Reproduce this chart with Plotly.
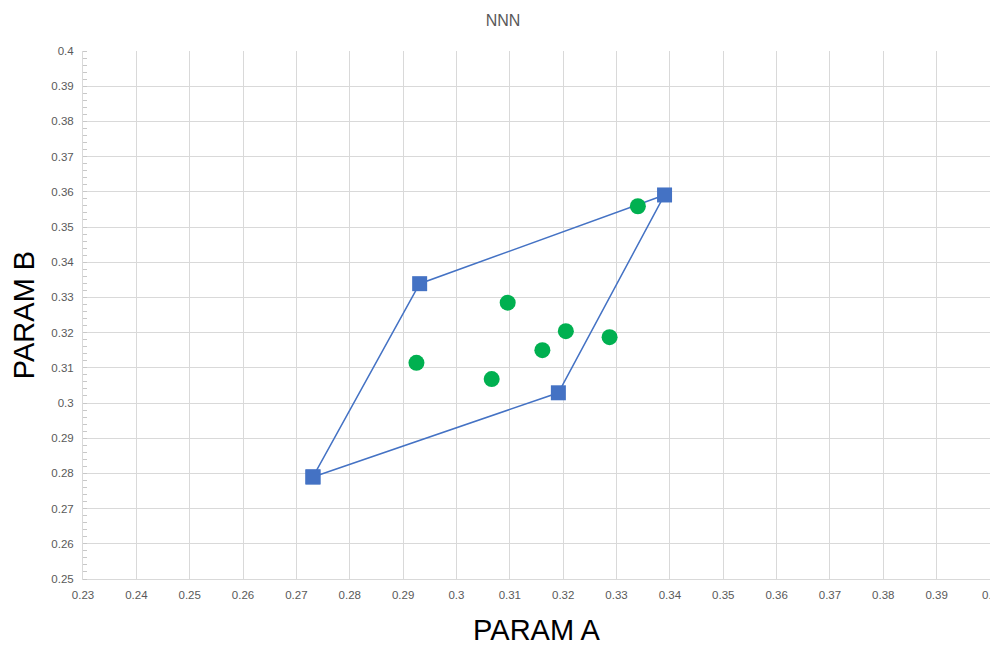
#!/usr/bin/env python3

import plotly.graph_objects as go

# corners of the quadrilateral (drawn in order, then closed)
corner_a = [0.2731, 0.2931, 0.3390, 0.3191]
corner_b = [0.2790, 0.3339, 0.3591, 0.3029]

# measured points
point_a = [0.2925, 0.3066, 0.3096, 0.3161, 0.3205, 0.3287, 0.3340]
point_b = [0.3114, 0.3068, 0.3285, 0.3150, 0.3204, 0.3187, 0.3559]

x_ticks = [round(0.23 + 0.01 * i, 2) for i in range(18)]
y_ticks = [round(0.25 + 0.01 * i, 2) for i in range(16)]

BLUE = "#4472C4"
GREEN = "#00B050"
GRID = "#d9d9d9"
TICK_FONT = dict(family="Liberation Sans", size=11.5, color="#595959")


def main():
    fig = go.Figure()
    fig.add_trace(
        go.Scatter(
            x=corner_a + corner_a[:1],
            y=corner_b + corner_b[:1],
            mode="lines+markers",
            line=dict(color=BLUE, width=1.5),
            marker=dict(symbol="square", size=15, color=BLUE),
            showlegend=False,
        )
    )
    fig.add_trace(
        go.Scatter(
            x=point_a,
            y=point_b,
            mode="markers",
            marker=dict(symbol="circle", size=16, color=GREEN),
            showlegend=False,
        )
    )
    # page body adds an 8px margin all round, so the figure is sized to fit
    fig.update_layout(
        width=990,
        height=646,
        paper_bgcolor="white",
        plot_bgcolor="white",
        margin=dict(l=75, r=8, t=43, b=75),
        title=dict(
            text="NNN",
            x=0.5,
            xanchor="center",
            y=0.981,
            yanchor="middle",
            font=dict(family="Liberation Sans", size=16, color="#595959"),
        ),
    )
    fig.update_xaxes(
        range=[0.23, 0.4],
        tickvals=x_ticks,
        ticktext=[f"{v:g}" for v in x_ticks],
        tickfont=TICK_FONT,
        ticklabelstandoff=5,
        ticklabeloverflow="allow",
        automargin=False,
        showgrid=True,
        gridcolor=GRID,
        gridwidth=1,
        showline=True,
        linecolor=GRID,
        zeroline=False,
        ticks="",
        title=dict(
            text="PARAM A",
            font=dict(family="Liberation Sans", size=29, color="black"),
            standoff=19,
        ),
    )
    fig.update_yaxes(
        range=[0.25, 0.4],
        tickvals=y_ticks,
        ticktext=[f"{v:g}" for v in y_ticks],
        tickfont=TICK_FONT,
        ticklabelstandoff=6,
        automargin=False,
        showgrid=True,
        gridcolor=GRID,
        gridwidth=1,
        showline=True,
        linecolor=GRID,
        zeroline=False,
        ticks="",
        minor=dict(ticks="inside", dtick=0.002, tick0=0.25, ticklen=4,
                   tickcolor="#c8c8c8", showgrid=False),
        title=dict(
            text="PARAM B",
            font=dict(family="Liberation Sans", size=29, color="black"),
            standoff=10,
        ),
    )
    fig.write_html("out.html")


if __name__ == "__main__":
    main()
